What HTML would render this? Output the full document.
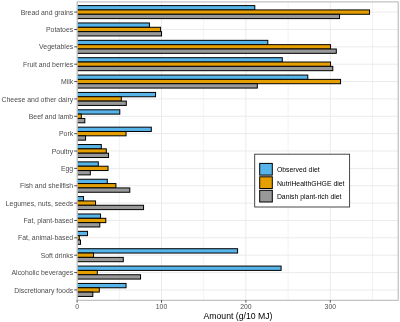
<!DOCTYPE html><html><head><meta charset="utf-8"><style>html,body{margin:0;padding:0;background:#fff;}svg{display:block;will-change:transform;}text{font-family:"Liberation Sans",sans-serif;}</style></head><body>
<svg width="400" height="322" viewBox="0 0 400 322">
<rect x="0" y="0" width="400" height="322" fill="#fff"/>
<line x1="119.30" y1="1.9" x2="119.30" y2="300.3" stroke="#efefef" stroke-width="0.8"/>
<line x1="203.70" y1="1.9" x2="203.70" y2="300.3" stroke="#efefef" stroke-width="0.8"/>
<line x1="288.10" y1="1.9" x2="288.10" y2="300.3" stroke="#efefef" stroke-width="0.8"/>
<line x1="372.50" y1="1.9" x2="372.50" y2="300.3" stroke="#efefef" stroke-width="0.8"/>
<line x1="77.10" y1="1.9" x2="77.10" y2="300.3" stroke="#ebebeb" stroke-width="1"/>
<line x1="161.50" y1="1.9" x2="161.50" y2="300.3" stroke="#ebebeb" stroke-width="1"/>
<line x1="245.90" y1="1.9" x2="245.90" y2="300.3" stroke="#ebebeb" stroke-width="1"/>
<line x1="330.30" y1="1.9" x2="330.30" y2="300.3" stroke="#ebebeb" stroke-width="1"/>
<line x1="77.2" y1="12.10" x2="398.2" y2="12.10" stroke="#ebebeb" stroke-width="1"/>
<line x1="77.2" y1="29.46" x2="398.2" y2="29.46" stroke="#ebebeb" stroke-width="1"/>
<line x1="77.2" y1="46.83" x2="398.2" y2="46.83" stroke="#ebebeb" stroke-width="1"/>
<line x1="77.2" y1="64.19" x2="398.2" y2="64.19" stroke="#ebebeb" stroke-width="1"/>
<line x1="77.2" y1="81.56" x2="398.2" y2="81.56" stroke="#ebebeb" stroke-width="1"/>
<line x1="77.2" y1="98.92" x2="398.2" y2="98.92" stroke="#ebebeb" stroke-width="1"/>
<line x1="77.2" y1="116.29" x2="398.2" y2="116.29" stroke="#ebebeb" stroke-width="1"/>
<line x1="77.2" y1="133.66" x2="398.2" y2="133.66" stroke="#ebebeb" stroke-width="1"/>
<line x1="77.2" y1="151.02" x2="398.2" y2="151.02" stroke="#ebebeb" stroke-width="1"/>
<line x1="77.2" y1="168.38" x2="398.2" y2="168.38" stroke="#ebebeb" stroke-width="1"/>
<line x1="77.2" y1="185.75" x2="398.2" y2="185.75" stroke="#ebebeb" stroke-width="1"/>
<line x1="77.2" y1="203.11" x2="398.2" y2="203.11" stroke="#ebebeb" stroke-width="1"/>
<line x1="77.2" y1="220.48" x2="398.2" y2="220.48" stroke="#ebebeb" stroke-width="1"/>
<line x1="77.2" y1="237.84" x2="398.2" y2="237.84" stroke="#ebebeb" stroke-width="1"/>
<line x1="77.2" y1="255.21" x2="398.2" y2="255.21" stroke="#ebebeb" stroke-width="1"/>
<line x1="77.2" y1="272.57" x2="398.2" y2="272.57" stroke="#ebebeb" stroke-width="1"/>
<line x1="77.2" y1="289.94" x2="398.2" y2="289.94" stroke="#ebebeb" stroke-width="1"/>
<defs><clipPath id="pc"><rect x="77.7" y="0" width="330" height="322"/></clipPath></defs><g clip-path="url(#pc)">
<rect x="75" y="5.60" width="179.80" height="4.33" fill="#56B4E9" stroke="#000" stroke-width="1.0"/>
<rect x="75" y="9.93" width="294.55" height="4.33" fill="#E69F00" stroke="#000" stroke-width="1.0"/>
<rect x="75" y="14.27" width="264.55" height="4.33" fill="#999999" stroke="#000" stroke-width="1.0"/>
<rect x="75" y="22.96" width="74.40" height="4.33" fill="#56B4E9" stroke="#000" stroke-width="1.0"/>
<rect x="75" y="27.30" width="85.60" height="4.33" fill="#E69F00" stroke="#000" stroke-width="1.0"/>
<rect x="75" y="31.63" width="86.55" height="4.33" fill="#999999" stroke="#000" stroke-width="1.0"/>
<rect x="75" y="40.33" width="192.80" height="4.33" fill="#56B4E9" stroke="#000" stroke-width="1.0"/>
<rect x="75" y="44.66" width="255.55" height="4.33" fill="#E69F00" stroke="#000" stroke-width="1.0"/>
<rect x="75" y="49.00" width="261.30" height="4.33" fill="#999999" stroke="#000" stroke-width="1.0"/>
<rect x="75" y="57.69" width="207.30" height="4.33" fill="#56B4E9" stroke="#000" stroke-width="1.0"/>
<rect x="75" y="62.03" width="255.55" height="4.33" fill="#E69F00" stroke="#000" stroke-width="1.0"/>
<rect x="75" y="66.36" width="257.80" height="4.33" fill="#999999" stroke="#000" stroke-width="1.0"/>
<rect x="75" y="75.06" width="232.80" height="4.33" fill="#56B4E9" stroke="#000" stroke-width="1.0"/>
<rect x="75" y="79.39" width="265.55" height="4.33" fill="#E69F00" stroke="#000" stroke-width="1.0"/>
<rect x="75" y="83.73" width="182.30" height="4.33" fill="#999999" stroke="#000" stroke-width="1.0"/>
<rect x="75" y="92.42" width="80.55" height="4.33" fill="#56B4E9" stroke="#000" stroke-width="1.0"/>
<rect x="75" y="96.76" width="46.30" height="4.33" fill="#E69F00" stroke="#000" stroke-width="1.0"/>
<rect x="75" y="101.09" width="51.30" height="4.33" fill="#999999" stroke="#000" stroke-width="1.0"/>
<rect x="75" y="109.79" width="44.80" height="4.33" fill="#56B4E9" stroke="#000" stroke-width="1.0"/>
<rect x="75" y="114.12" width="6.30" height="4.33" fill="#E69F00" stroke="#000" stroke-width="1.0"/>
<rect x="75" y="118.46" width="9.80" height="4.33" fill="#999999" stroke="#000" stroke-width="1.0"/>
<rect x="75" y="127.16" width="76.30" height="4.33" fill="#56B4E9" stroke="#000" stroke-width="1.0"/>
<rect x="75" y="131.49" width="51.05" height="4.33" fill="#E69F00" stroke="#000" stroke-width="1.0"/>
<rect x="75" y="135.82" width="10.55" height="4.33" fill="#999999" stroke="#000" stroke-width="1.0"/>
<rect x="75" y="144.52" width="26.30" height="4.33" fill="#56B4E9" stroke="#000" stroke-width="1.0"/>
<rect x="75" y="148.85" width="31.30" height="4.33" fill="#E69F00" stroke="#000" stroke-width="1.0"/>
<rect x="75" y="153.19" width="33.55" height="4.33" fill="#999999" stroke="#000" stroke-width="1.0"/>
<rect x="75" y="161.88" width="23.30" height="4.33" fill="#56B4E9" stroke="#000" stroke-width="1.0"/>
<rect x="75" y="166.22" width="33.05" height="4.33" fill="#E69F00" stroke="#000" stroke-width="1.0"/>
<rect x="75" y="170.55" width="15.30" height="4.33" fill="#999999" stroke="#000" stroke-width="1.0"/>
<rect x="75" y="179.25" width="32.30" height="4.33" fill="#56B4E9" stroke="#000" stroke-width="1.0"/>
<rect x="75" y="183.58" width="40.90" height="4.33" fill="#E69F00" stroke="#000" stroke-width="1.0"/>
<rect x="75" y="187.92" width="54.80" height="4.33" fill="#999999" stroke="#000" stroke-width="1.0"/>
<rect x="75" y="196.61" width="8.55" height="4.33" fill="#56B4E9" stroke="#000" stroke-width="1.0"/>
<rect x="75" y="200.95" width="20.55" height="4.33" fill="#E69F00" stroke="#000" stroke-width="1.0"/>
<rect x="75" y="205.28" width="68.55" height="4.33" fill="#999999" stroke="#000" stroke-width="1.0"/>
<rect x="75" y="213.98" width="25.55" height="4.33" fill="#56B4E9" stroke="#000" stroke-width="1.0"/>
<rect x="75" y="218.31" width="30.80" height="4.33" fill="#E69F00" stroke="#000" stroke-width="1.0"/>
<rect x="75" y="222.65" width="24.80" height="4.33" fill="#999999" stroke="#000" stroke-width="1.0"/>
<rect x="75" y="231.34" width="12.50" height="4.33" fill="#56B4E9" stroke="#000" stroke-width="1.0"/>
<rect x="75" y="235.68" width="4.30" height="4.33" fill="#E69F00" stroke="#000" stroke-width="1.0"/>
<rect x="75" y="240.01" width="5.50" height="4.33" fill="#999999" stroke="#000" stroke-width="1.0"/>
<rect x="75" y="248.71" width="162.60" height="4.33" fill="#56B4E9" stroke="#000" stroke-width="1.0"/>
<rect x="75" y="253.04" width="18.55" height="4.33" fill="#E69F00" stroke="#000" stroke-width="1.0"/>
<rect x="75" y="257.38" width="48.30" height="4.33" fill="#999999" stroke="#000" stroke-width="1.0"/>
<rect x="75" y="266.07" width="206.10" height="4.33" fill="#56B4E9" stroke="#000" stroke-width="1.0"/>
<rect x="75" y="270.41" width="22.30" height="4.33" fill="#E69F00" stroke="#000" stroke-width="1.0"/>
<rect x="75" y="274.74" width="65.55" height="4.33" fill="#999999" stroke="#000" stroke-width="1.0"/>
<rect x="75" y="283.44" width="51.05" height="4.33" fill="#56B4E9" stroke="#000" stroke-width="1.0"/>
<rect x="75" y="287.77" width="24.30" height="4.33" fill="#E69F00" stroke="#000" stroke-width="1.0"/>
<rect x="75" y="292.11" width="17.80" height="4.33" fill="#999999" stroke="#000" stroke-width="1.0"/>
</g>
<rect x="77.2" y="1.9" width="321.00" height="298.40" fill="none" stroke="#b3b3b3" stroke-width="1"/>
<line x1="74.2" y1="12.10" x2="77.2" y2="12.10" stroke="#333" stroke-width="0.9"/>
<text x="73.2" y="14.70" font-size="6.9" fill="#4d4d4d" text-anchor="end">Bread and grains</text>
<line x1="74.2" y1="29.46" x2="77.2" y2="29.46" stroke="#333" stroke-width="0.9"/>
<text x="73.2" y="32.06" font-size="6.9" fill="#4d4d4d" text-anchor="end">Potatoes</text>
<line x1="74.2" y1="46.83" x2="77.2" y2="46.83" stroke="#333" stroke-width="0.9"/>
<text x="73.2" y="49.43" font-size="6.9" fill="#4d4d4d" text-anchor="end">Vegetables</text>
<line x1="74.2" y1="64.19" x2="77.2" y2="64.19" stroke="#333" stroke-width="0.9"/>
<text x="73.2" y="66.79" font-size="6.9" fill="#4d4d4d" text-anchor="end">Fruit and berries</text>
<line x1="74.2" y1="81.56" x2="77.2" y2="81.56" stroke="#333" stroke-width="0.9"/>
<text x="73.2" y="84.16" font-size="6.9" fill="#4d4d4d" text-anchor="end">Milk</text>
<line x1="74.2" y1="98.92" x2="77.2" y2="98.92" stroke="#333" stroke-width="0.9"/>
<text x="73.2" y="101.52" font-size="6.9" fill="#4d4d4d" text-anchor="end">Cheese and other dairy</text>
<line x1="74.2" y1="116.29" x2="77.2" y2="116.29" stroke="#333" stroke-width="0.9"/>
<text x="73.2" y="118.89" font-size="6.9" fill="#4d4d4d" text-anchor="end">Beef and lamb</text>
<line x1="74.2" y1="133.66" x2="77.2" y2="133.66" stroke="#333" stroke-width="0.9"/>
<text x="73.2" y="136.25" font-size="6.9" fill="#4d4d4d" text-anchor="end">Pork</text>
<line x1="74.2" y1="151.02" x2="77.2" y2="151.02" stroke="#333" stroke-width="0.9"/>
<text x="73.2" y="153.62" font-size="6.9" fill="#4d4d4d" text-anchor="end">Poultry</text>
<line x1="74.2" y1="168.38" x2="77.2" y2="168.38" stroke="#333" stroke-width="0.9"/>
<text x="73.2" y="170.98" font-size="6.9" fill="#4d4d4d" text-anchor="end">Egg</text>
<line x1="74.2" y1="185.75" x2="77.2" y2="185.75" stroke="#333" stroke-width="0.9"/>
<text x="73.2" y="188.35" font-size="6.9" fill="#4d4d4d" text-anchor="end">Fish and shellfish</text>
<line x1="74.2" y1="203.11" x2="77.2" y2="203.11" stroke="#333" stroke-width="0.9"/>
<text x="73.2" y="205.71" font-size="6.9" fill="#4d4d4d" text-anchor="end">Legumes, nuts, seeds</text>
<line x1="74.2" y1="220.48" x2="77.2" y2="220.48" stroke="#333" stroke-width="0.9"/>
<text x="73.2" y="223.08" font-size="6.9" fill="#4d4d4d" text-anchor="end">Fat, plant-based</text>
<line x1="74.2" y1="237.84" x2="77.2" y2="237.84" stroke="#333" stroke-width="0.9"/>
<text x="73.2" y="240.44" font-size="6.9" fill="#4d4d4d" text-anchor="end">Fat, animal-based</text>
<line x1="74.2" y1="255.21" x2="77.2" y2="255.21" stroke="#333" stroke-width="0.9"/>
<text x="73.2" y="257.81" font-size="6.9" fill="#4d4d4d" text-anchor="end">Soft drinks</text>
<line x1="74.2" y1="272.57" x2="77.2" y2="272.57" stroke="#333" stroke-width="0.9"/>
<text x="73.2" y="275.18" font-size="6.9" fill="#4d4d4d" text-anchor="end">Alcoholic beverages</text>
<line x1="74.2" y1="289.94" x2="77.2" y2="289.94" stroke="#333" stroke-width="0.9"/>
<text x="73.2" y="292.54" font-size="6.9" fill="#4d4d4d" text-anchor="end">Discretionary foods</text>
<line x1="77.10" y1="300.3" x2="77.10" y2="302.5" stroke="#333" stroke-width="0.9"/>
<text x="77.10" y="309.2" font-size="6.85" fill="#4d4d4d" text-anchor="middle">0</text>
<line x1="161.50" y1="300.3" x2="161.50" y2="302.5" stroke="#333" stroke-width="0.9"/>
<text x="161.50" y="309.2" font-size="6.85" fill="#4d4d4d" text-anchor="middle">100</text>
<line x1="245.90" y1="300.3" x2="245.90" y2="302.5" stroke="#333" stroke-width="0.9"/>
<text x="245.90" y="309.2" font-size="6.85" fill="#4d4d4d" text-anchor="middle">200</text>
<line x1="330.30" y1="300.3" x2="330.30" y2="302.5" stroke="#333" stroke-width="0.9"/>
<text x="330.30" y="309.2" font-size="6.85" fill="#4d4d4d" text-anchor="middle">300</text>
<text x="238.00" y="319.4" font-size="8.7" fill="#000" text-anchor="middle">Amount (g/10 MJ)</text>
<rect x="254.7" y="154.2" width="94.9" height="52.8" fill="#fff" stroke="#333" stroke-width="0.9"/>
<rect x="259.70" y="163.40" width="12.60" height="11.70" fill="#56B4E9" stroke="#000" stroke-width="1.0"/>
<text x="276.9" y="172.40" font-size="6.88" fill="#000">Observed diet</text>
<rect x="259.70" y="176.80" width="12.60" height="11.70" fill="#E69F00" stroke="#000" stroke-width="1.0"/>
<text x="276.9" y="185.80" font-size="6.88" fill="#000">NutriHealthGHGE diet</text>
<rect x="259.70" y="190.30" width="12.60" height="11.70" fill="#999999" stroke="#000" stroke-width="1.0"/>
<text x="276.9" y="199.30" font-size="6.88" fill="#000">Danish plant-rich diet</text>
</svg></body></html>
